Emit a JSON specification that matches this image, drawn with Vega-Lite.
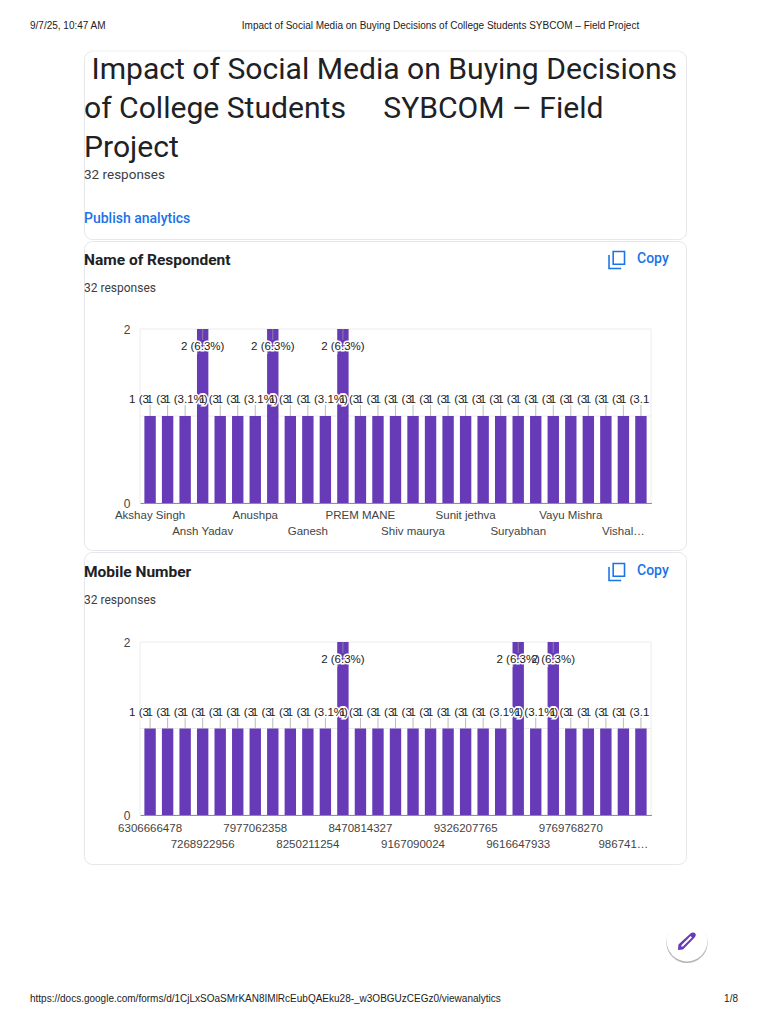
{
"$schema":"https://vega.github.io/schema/vega-lite/v6.json",
"padding":{"left":30,"right":30,"top":0,"bottom":0},
"background":"white",
"spacing":0,
"config":{"font":"Roboto","view":{"stroke":null},
"title":{"anchor":"start","frame":"group","font":"Roboto","color":"#202124","subtitleFont":"Roboto","subtitleColor":"#3c4043"},
"axis":{"labelFont":"Liberation Sans","labelFontSize":11.5,"labelColor":"#444444"}},
"datasets":{
"names":[
{"name":"Akshay Singh","count":1,"label":"1 (3.1%)"},{"name":"Respondent 2","count":1,"label":"1 (3.1%)"},{"name":"Respondent 3","count":1,"label":"1 (3.1%)"},
{"name":"Ansh Yadav","count":2,"label":"2 (6.3%)"},{"name":"Respondent 5","count":1,"label":"1 (3.1%)"},{"name":"Respondent 6","count":1,"label":"1 (3.1%)"},
{"name":"Anushpa","count":1,"label":"1 (3.1%)"},{"name":"Respondent 8","count":2,"label":"2 (6.3%)"},{"name":"Respondent 9","count":1,"label":"1 (3.1%)"},
{"name":"Ganesh","count":1,"label":"1 (3.1%)"},{"name":"Respondent 11","count":1,"label":"1 (3.1%)"},{"name":"Respondent 12","count":2,"label":"2 (6.3%)"},
{"name":"PREM MANE","count":1,"label":"1 (3.1%)"},{"name":"Respondent 14","count":1,"label":"1 (3.1%)"},{"name":"Respondent 15","count":1,"label":"1 (3.1%)"},
{"name":"Shiv maurya","count":1,"label":"1 (3.1%)"},{"name":"Respondent 17","count":1,"label":"1 (3.1%)"},{"name":"Respondent 18","count":1,"label":"1 (3.1%)"},
{"name":"Sunit jethva","count":1,"label":"1 (3.1%)"},{"name":"Respondent 20","count":1,"label":"1 (3.1%)"},{"name":"Respondent 21","count":1,"label":"1 (3.1%)"},
{"name":"Suryabhan","count":1,"label":"1 (3.1%)"},{"name":"Respondent 23","count":1,"label":"1 (3.1%)"},{"name":"Respondent 24","count":1,"label":"1 (3.1%)"},
{"name":"Vayu Mishra","count":1,"label":"1 (3.1%)"},{"name":"Respondent 26","count":1,"label":"1 (3.1%)"},{"name":"Respondent 27","count":1,"label":"1 (3.1%)"},
{"name":"Vishal…","count":1,"label":"1 (3.1%)"},{"name":"Respondent 29","count":1,"label":"1 (3.1%)"}],
"phones":[
{"name":"6306666478","count":1,"label":"1 (3.1%)"},{"name":"Number 2","count":1,"label":"1 (3.1%)"},{"name":"Number 3","count":1,"label":"1 (3.1%)"},
{"name":"7268922956","count":1,"label":"1 (3.1%)"},{"name":"Number 5","count":1,"label":"1 (3.1%)"},{"name":"Number 6","count":1,"label":"1 (3.1%)"},
{"name":"7977062358","count":1,"label":"1 (3.1%)"},{"name":"Number 8","count":1,"label":"1 (3.1%)"},{"name":"Number 9","count":1,"label":"1 (3.1%)"},
{"name":"8250211254","count":1,"label":"1 (3.1%)"},{"name":"Number 11","count":1,"label":"1 (3.1%)"},{"name":"Number 12","count":2,"label":"2 (6.3%)"},
{"name":"8470814327","count":1,"label":"1 (3.1%)"},{"name":"Number 14","count":1,"label":"1 (3.1%)"},{"name":"Number 15","count":1,"label":"1 (3.1%)"},
{"name":"9167090024","count":1,"label":"1 (3.1%)"},{"name":"Number 17","count":1,"label":"1 (3.1%)"},{"name":"Number 18","count":1,"label":"1 (3.1%)"},
{"name":"9326207765","count":1,"label":"1 (3.1%)"},{"name":"Number 20","count":1,"label":"1 (3.1%)"},{"name":"Number 21","count":1,"label":"1 (3.1%)"},
{"name":"9616647933","count":2,"label":"2 (6.3%)"},{"name":"Number 23","count":1,"label":"1 (3.1%)"},{"name":"Number 24","count":2,"label":"2 (6.3%)"},
{"name":"9769768270","count":1,"label":"1 (3.1%)"},{"name":"Number 26","count":1,"label":"1 (3.1%)"},{"name":"Number 27","count":1,"label":"1 (3.1%)"},
{"name":"986741…","count":1,"label":"1 (3.1%)"},{"name":"Number 29","count":1,"label":"1 (3.1%)"}]
},
"vconcat":[
{"width":602,"height":49,
"data":{"values":[{"left":"9/7/25, 10:47 AM","mid":"Impact of Social Media on Buying Decisions of College Students SYBCOM – Field Project"}]},
"layer":[
{"mark":{"type":"text","align":"left","baseline":"middle","font":"Liberation Sans","fontSize":10,"color":"#222222"},
"encoding":{"text":{"field":"left"},"x":{"field":"left","type":"nominal","axis":null,"scale":{"range":[-54,-54]}},"y":{"field":"left","type":"nominal","axis":null,"scale":{"range":[26,26]}}}},
{"mark":{"type":"text","align":"center","baseline":"middle","font":"Liberation Sans","fontSize":10,"color":"#222222"},
"encoding":{"text":{"field":"mid"},"x":{"field":"mid","type":"nominal","axis":null,"scale":{"range":[356.5,356.5]}},"y":{"field":"mid","type":"nominal","axis":null,"scale":{"range":[26,26]}}}}
],"resolve":{"scale":{"x":"independent","y":"independent"}}},
{"width":602,"height":188,
"view":{"stroke":"#e6e7ea","cornerRadius":8,"fill":"white"},
"title":{"text":["\u200b\u00a0Impact of Social Media on Buying Decisions","of College Students \u00a0 \u00a0 SYBCOM – Field","Project"],"subtitle":"32 responses","fontSize":30.1,"fontWeight":400,"lineHeight":39,"subtitleFontSize":13.5,"subtitlePadding":4,"offset":-131},
"layer":[
{"data":{"values":[{"edge":0}]},
"mark":{"type":"rule","color":"#f7f7f8","strokeWidth":2},
"encoding":{"x":{"datum":0,"type":"quantitative","axis":null,"scale":{"domain":[0,1],"range":[5,597]}},"x2":{"datum":1},"y":{"field":"edge","type":"quantitative","axis":null,"scale":{"domain":[0,1],"range":[0,0]}}}},
{"data":{"values":[{"link":"Publish analytics"}]},
"mark":{"type":"text","align":"left","baseline":"middle","fontSize":14,"fontWeight":500,"color":"#1a73e8"},
"encoding":{"text":{"field":"link"},"x":{"field":"link","type":"nominal","axis":null,"scale":{"range":[0,0]}},"y":{"field":"link","type":"nominal","axis":null,"scale":{"range":[168,168]}}}}
],"resolve":{"scale":{"x":"independent","y":"independent"}}},
{"width":602,"height":309,
"view":{"stroke":"#e6e7ea","cornerRadius":8,"fill":"white"},
"title":{"text":"Name of Respondent","subtitle":"32 responses","fontSize":15.5,"fontWeight":700,"subtitleFontSize":12,"subtitlePadding":15,"offset":-53},
"data":{"name":"names"},
"layer":[
{"data":{"values":[{"gridline":1}]},
"encoding":{"x":{"datum":0,"type":"quantitative","axis":null,"scale":{"domain":[0,1],"range":[56,567]}},"x2":{"datum":1}},
"layer":[
{"mark":{"type":"rect","fill":null,"stroke":"#ececec","strokeWidth":1},"encoding":{"y":{"datum":0,"type":"quantitative","axis":null,"scale":{"domain":[0,2],"range":[262,88]}},"y2":{"datum":2}}},
{"mark":{"type":"rule","color":"#ececec"},"encoding":{"y":{"field":"gridline","type":"quantitative","axis":null,"scale":{"domain":[0,2],"range":[262,88]}}}}
]},
{"encoding":{
"x":{"field":"name","type":"nominal","sort":null,"scale":{"range":[56,567],"paddingInner":0.35,"paddingOuter":0.25},
"axis":{"title":null,"offset":-47,"values":["Akshay Singh","Ansh Yadav","Anushpa","Ganesh","PREM MANE","Shiv maurya","Sunit jethva","Suryabhan","Vayu Mishra","Vishal…"],"labelAngle":0,"labelOverlap":false,"labelBound":false,"labelFlush":false,"labelLimit":200,"labelPadding":6,"labelLineHeight":16,"ticks":false,"domainColor":"#333333","labelExpr":"indexof(['Ansh Yadav','Ganesh','Shiv maurya','Suryabhan','Vishal…'],datum.value)>=0?['',datum.label]:datum.label"}},
"y":{"field":"count","type":"quantitative","scale":{"domain":[0,2],"range":[262,88],"nice":false},
"axis":{"title":null,"offset":-56,"values":[0,1,2],"format":"d","domain":false,"ticks":false,"grid":false,"labelPadding":10,"labelFontSize":12}}},
"layer":[
{"mark":{"type":"bar","color":"#673ab7"}},
{"mark":{"type":"tick","orient":"vertical","size":11,"thickness":1,"color":"#9e9e9e","yOffset":{"expr":"datum.count==2?5.5:-5.5"}}},
{"transform":[{"filter":"datum.count==1"}],"mark":{"type":"text","align":"left","baseline":"middle","font":"Liberation Sans","fontSize":11.5,"dx":-21,"dy":-16,"ellipsis":"\u200b","limit":{"expr":"indexof(['Respondent 3','Anushpa','Respondent 11'],datum.name)>=0?60:(datum.name=='Respondent 29'?32:20.5)"},"color":"white","stroke":"white","strokeWidth":3},"encoding":{"text":{"field":"label"}}},
{"transform":[{"filter":"datum.count==1"}],"mark":{"type":"text","align":"left","baseline":"middle","font":"Liberation Sans","fontSize":11.5,"dx":-21,"dy":-16,"ellipsis":"\u200b","limit":{"expr":"indexof(['Respondent 3','Anushpa','Respondent 11'],datum.name)>=0?60:(datum.name=='Respondent 29'?32:20.5)"},"color":"#222222"},"encoding":{"text":{"field":"label"}}},
{"transform":[{"filter":"datum.count==2"}],"mark":{"type":"text","align":"center","baseline":"middle","font":"Liberation Sans","fontSize":11.5,"dy":18,"color":"white","stroke":"white","strokeWidth":3},"encoding":{"text":{"field":"label"}}},
{"transform":[{"filter":"datum.count==2"}],"mark":{"type":"text","align":"center","baseline":"middle","font":"Liberation Sans","fontSize":11.5,"dy":18,"color":"#222222"},"encoding":{"text":{"field":"label"}}}
]},
{"data":{"values":[{"action":"Copy"}]},
"encoding":{"x":{"field":"action","type":"nominal","axis":null,"scale":{"range":[553,553]}},"y":{"field":"action","type":"nominal","axis":null,"scale":{"range":[18,18]}},"text":{"field":"action"}},
"mark":{"type":"text","align":"left","baseline":"middle","fontSize":14,"fontWeight":500,"color":"#1a73e8"}},
{"data":{"values":[{"icon":"copy"}]},
"encoding":{"x":{"field":"icon","type":"nominal","axis":null,"scale":{"range":[533,533]}},"y":{"field":"icon","type":"nominal","axis":null,"scale":{"range":[19,19]}}},
"mark":{"type":"point","filled":true,"size":340,"color":"#1a73e8","opacity":1,"shape":"M-0.5 -1 L0.9 -1 L0.9 0.55 L-0.5 0.55 Z M-0.33 -0.83 L-0.33 0.38 L0.73 0.38 L0.73 -0.83 Z M-0.95 -0.55 L-0.78 -0.55 L-0.78 0.83 L0.45 0.83 L0.45 1 L-0.95 1 Z"}}
],"resolve":{"scale":{"x":"independent","y":"independent"}}},
{"width":602,"height":312,
"view":{"stroke":"#e6e7ea","cornerRadius":8,"fill":"white"},
"title":{"text":"Mobile Number","subtitle":"32 responses","fontSize":15.5,"fontWeight":700,"subtitleFontSize":12,"subtitlePadding":15,"offset":-54},
"data":{"name":"phones"},
"layer":[
{"data":{"values":[{"gridline":1}]},
"encoding":{"x":{"datum":0,"type":"quantitative","axis":null,"scale":{"domain":[0,1],"range":[56,567]}},"x2":{"datum":1}},
"layer":[
{"mark":{"type":"rect","fill":null,"stroke":"#ececec","strokeWidth":1},"encoding":{"y":{"datum":0,"type":"quantitative","axis":null,"scale":{"domain":[0,2],"range":[263,90]}},"y2":{"datum":2}}},
{"mark":{"type":"rule","color":"#ececec"},"encoding":{"y":{"field":"gridline","type":"quantitative","axis":null,"scale":{"domain":[0,2],"range":[263,90]}}}}
]},
{"encoding":{
"x":{"field":"name","type":"nominal","sort":null,"scale":{"range":[56,567],"paddingInner":0.35,"paddingOuter":0.25},
"axis":{"title":null,"offset":-49,"values":["6306666478","7268922956","7977062358","8250211254","8470814327","9167090024","9326207765","9616647933","9769768270","986741…"],"labelAngle":0,"labelOverlap":false,"labelBound":false,"labelFlush":false,"labelLimit":200,"labelPadding":7,"labelLineHeight":16,"ticks":false,"domainColor":"#333333","labelExpr":"indexof(['7268922956','8250211254','9167090024','9616647933','986741…'],datum.value)>=0?['',datum.label]:datum.label"}},
"y":{"field":"count","type":"quantitative","scale":{"domain":[0,2],"range":[263,90],"nice":false},
"axis":{"title":null,"offset":-56,"values":[0,1,2],"format":"d","domain":false,"ticks":false,"grid":false,"labelPadding":10,"labelFontSize":12}}},
"layer":[
{"mark":{"type":"bar","color":"#673ab7"}},
{"mark":{"type":"tick","orient":"vertical","size":11,"thickness":1,"color":"#9e9e9e","yOffset":{"expr":"datum.count==2?5.5:-5.5"}}},
{"transform":[{"filter":"datum.count==1"}],"mark":{"type":"text","align":"left","baseline":"middle","font":"Liberation Sans","fontSize":11.5,"dx":-21,"dy":-16,"ellipsis":"\u200b","limit":{"expr":"indexof(['Number 11','Number 21','Number 23'],datum.name)>=0?60:(datum.name=='Number 29'?32:20.5)"},"color":"white","stroke":"white","strokeWidth":3},"encoding":{"text":{"field":"label"}}},
{"transform":[{"filter":"datum.count==1"}],"mark":{"type":"text","align":"left","baseline":"middle","font":"Liberation Sans","fontSize":11.5,"dx":-21,"dy":-16,"ellipsis":"\u200b","limit":{"expr":"indexof(['Number 11','Number 21','Number 23'],datum.name)>=0?60:(datum.name=='Number 29'?32:20.5)"},"color":"#222222"},"encoding":{"text":{"field":"label"}}},
{"transform":[{"filter":"datum.count==2"}],"mark":{"type":"text","align":"center","baseline":"middle","font":"Liberation Sans","fontSize":11.5,"dy":18,"color":"white","stroke":"white","strokeWidth":3},"encoding":{"text":{"field":"label"}}},
{"transform":[{"filter":"datum.count==2"}],"mark":{"type":"text","align":"center","baseline":"middle","font":"Liberation Sans","fontSize":11.5,"dy":18,"color":"#222222"},"encoding":{"text":{"field":"label"}}}
]},
{"data":{"values":[{"action":"Copy"}]},
"encoding":{"x":{"field":"action","type":"nominal","axis":null,"scale":{"range":[553,553]}},"y":{"field":"action","type":"nominal","axis":null,"scale":{"range":[19,19]}},"text":{"field":"action"}},
"mark":{"type":"text","align":"left","baseline":"middle","fontSize":14,"fontWeight":500,"color":"#1a73e8"}},
{"data":{"values":[{"icon":"copy"}]},
"encoding":{"x":{"field":"icon","type":"nominal","axis":null,"scale":{"range":[533,533]}},"y":{"field":"icon","type":"nominal","axis":null,"scale":{"range":[20,20]}}},
"mark":{"type":"point","filled":true,"size":340,"color":"#1a73e8","opacity":1,"shape":"M-0.5 -1 L0.9 -1 L0.9 0.55 L-0.5 0.55 Z M-0.33 -0.83 L-0.33 0.38 L0.73 0.38 L0.73 -0.83 Z M-0.95 -0.55 L-0.78 -0.55 L-0.78 0.83 L0.45 0.83 L0.45 1 L-0.95 1 Z"}}
],"resolve":{"scale":{"x":"independent","y":"independent"}}},
{"width":602,"height":159,
"data":{"values":[{"url":"https://docs.google.com/forms/d/1CjLxSOaSMrKAN8IMlRcEubQAEku28-_w3OBGUzCEGz0/viewanalytics","page":"1/8","fab":"edit"}]},
"layer":[
{"mark":{"type":"text","align":"left","baseline":"middle","font":"Liberation Sans","fontSize":10,"color":"#222222"},
"encoding":{"text":{"field":"url"},"x":{"field":"url","type":"nominal","axis":null,"scale":{"range":[-54,-54]}},"y":{"field":"url","type":"nominal","axis":null,"scale":{"range":[134,134]}}}},
{"mark":{"type":"text","align":"right","baseline":"middle","font":"Liberation Sans","fontSize":10,"color":"#222222"},
"encoding":{"text":{"field":"page"},"x":{"field":"page","type":"nominal","axis":null,"scale":{"range":[654,654]}},"y":{"field":"page","type":"nominal","axis":null,"scale":{"range":[134,134]}}}},
{"encoding":{"x":{"field":"fab","type":"nominal","axis":null,"scale":{"range":[603,603]}},"y":{"field":"fab","type":"nominal","axis":null,"scale":{"range":[76,76]}}},
"layer":[
{"mark":{"type":"point","shape":"circle","filled":true,"size":1700,"color":"#9e9e9e","opacity":0.75,"yOffset":1.5}},
{"mark":{"type":"point","shape":"circle","filled":true,"size":1662,"color":"white","opacity":1}},
{"mark":{"type":"point","filled":true,"size":324,"color":"#673ab7","opacity":1,"shape":"M-1 1 L-0.95 0.4 L0.45 -0.9 Q0.75 -1.05 0.95 -0.8 Q1.05 -0.6 0.85 -0.4 L-0.45 0.95 Z M-0.65 0.65 L-0.45 0.6 L0.55 -0.4 L0.4 -0.55 L-0.6 0.45 Z"}}
]}
],"resolve":{"scale":{"x":"independent","y":"independent"}}}
]}
